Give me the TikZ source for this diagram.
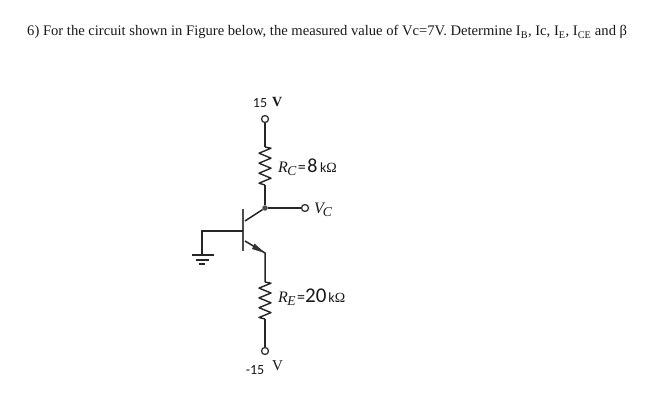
\documentclass[tikz,border=0pt]{standalone}
\usepackage{fontspec}
\setmainfont{Liberation Serif}
\newfontfamily\lab{Carlito}
\tikzset{
  wire/.style={line width=1.5pt,draw=black!85},
  gnd/.style={line width=2pt,draw=black!85},
  res/.style={line width=1.4pt,draw=black!85,line join=round},
  term/.style={circle,draw=black!80,line width=1.3pt,fill=white,inner sep=0pt,minimum size=7pt},
  dot/.style={circle,fill=black!70,inner sep=0pt,minimum size=5.5pt},
  txt/.style={inner sep=0pt,anchor=base west,text=black!90},
}
\begin{document}
\begin{tikzpicture}[x=1pt,y=-1pt]
\useasboundingbox (0,0) rectangle (655,406);
\fill[white] (0,0) rectangle (655,406);
\node[txt,font=\fontsize{14.6}{16}\selectfont] (title) at (27,36) {6) For the circuit shown in Figure below, the measured value of V\textsc{c}=7V. Determine I\textsubscript{B}, I\textsc{c}, I\textsubscript{E}, I\textsubscript{CE} and β};
% nodes
\node[term] (top) at (265,119) {};
\node[term] (bot) at (265,351) {};
\node[term] (vc) at (305,208) {};
\node[dot] (j) at (265,208) {};
\coordinate (rct) at (265,147);
\coordinate (rcb) at (265,185);
\coordinate (ret) at (265,282);
\coordinate (reb) at (265,319);
\coordinate (bt) at (243,209);
\coordinate (bb) at (243,251);
\coordinate (bm) at (243,231);
\coordinate (gc) at (202,231);
\coordinate (g) at (202,255);
\coordinate (cb) at (245,221);
\coordinate (eb) at (245,241);
\coordinate (ee) at (265,253);
% wires
\draw[wire] (top) -- (rct);
\draw[res] (rct) -- ++(6,1.2) -- ++(-12,5) -- ++(12,5) -- ++(-12,5) -- ++(12,5) -- ++(-12,5) -- ++(12,5) -- ++(-12,5) -- (rcb);
\draw[wire] (rcb) -- (j);
\draw[wire] (j) -- (vc);
\draw[wire] (cb) -- (j);
\draw[line width=2.4pt,draw=black!70] (bt) -- (bb);
\draw[wire] (bm) -- (gc) -- (g);
\draw[gnd] (192,255) -- (214,255);
\draw[gnd] (196,259.5) -- (209,259.5);
\draw[gnd] (199,264) -- (205,264);
\draw[wire] (eb) -- (ee) -- (ret);
\fill[black!80] (ee) -- (254.5,243.5) -- (252,249) -- cycle;
\draw[res] (ret) -- ++(6,1.2) -- ++(-12,4.9) -- ++(12,4.9) -- ++(-12,4.9) -- ++(12,4.9) -- ++(-12,4.9) -- ++(12,4.9) -- ++(-12,4.9) -- (reb);
\draw[wire] (reb) -- (bot);
% labels
\node[txt,font=\lab\fontsize{14}{14}\selectfont,anchor=base] (v1) at (260,108) {15};
\node[txt,font=\bfseries\fontsize{14}{14}\selectfont] (v1v) at (272,107) {V};
\node[txt,font=\lab\fontsize{14}{14}\selectfont,anchor=base] (v2) at (255,374) {-15};
\node[txt,font=\fontsize{15}{14}\selectfont] (v2v) at (272,370) {V};
\node[txt] (rc) at (278,172) {\fontsize{16}{14}\selectfont\itshape R\kern-.5pt\raisebox{-3pt}{\fontsize{13.5}{12}\selectfont C}\kern1.5pt{\lab\upshape =\kern1.5pt\fontsize{20}{16}\selectfont 8\kern2.5pt\fontsize{14}{12}\selectfont k}\fontsize{14}{12}\selectfont\upshape Ω};
\node[txt] (re) at (278,302) {\fontsize{16}{14}\selectfont\itshape R\kern-.5pt\raisebox{-3pt}{\fontsize{13.5}{12}\selectfont E}\kern1.5pt{\lab\upshape =\fontsize{21}{16}\selectfont 20\kern2pt\fontsize{14}{12}\selectfont k}\fontsize{14}{12}\selectfont\upshape Ω};
\node[txt] (vcl) at (314,213) {\fontsize{16}{14}\selectfont\itshape V\kern-1pt\raisebox{-3pt}{\fontsize{13.5}{12}\selectfont C}};
\end{tikzpicture}
\end{document}
